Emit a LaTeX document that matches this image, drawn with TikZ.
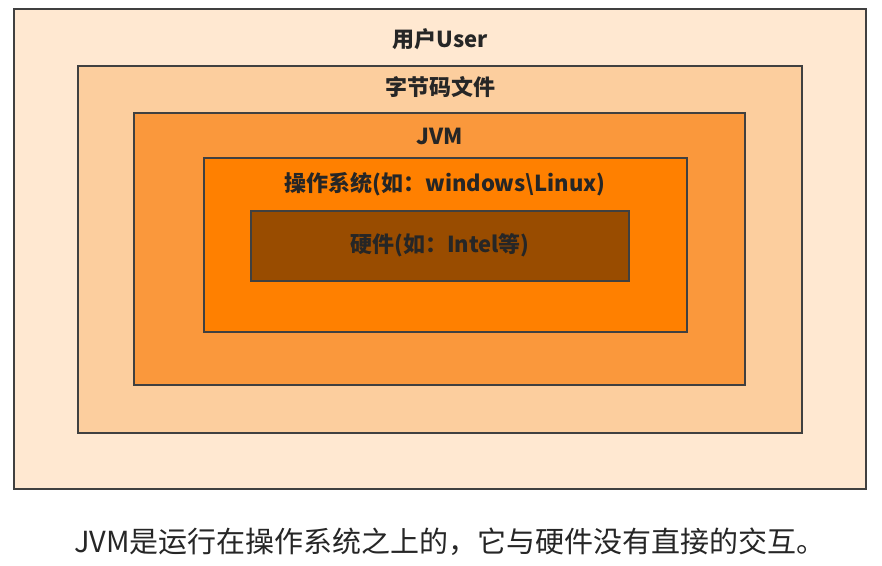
\documentclass[tikz,border=0pt]{standalone}
\usepackage{fontspec}
\newfontfamily\cjk{Noto Sans CJK SC}
\begin{document}
\begin{tikzpicture}[x=1pt,y=-1pt,
  layer/.style={draw=black!75,line width=1.3pt},
  lab/.style={font=\cjk\bfseries\fontsize{22}{26}\selectfont,text=black!85}]
\useasboundingbox[fill=white] (0,0) rectangle (882,565);
\draw[layer,fill=orange!18!white] (14,9) rectangle (866,489);
\draw[layer,fill={rgb,255:red,252;green,206;blue,158}] (78,66) rectangle (802,433);
\draw[layer,fill={rgb,255:red,250;green,152;blue,60}] (134,113) rectangle (745,385);
\draw[layer,fill={rgb,255:red,255;green,128;blue,0}] (204,158) rectangle (687,332);
\draw[layer,fill={rgb,255:red,153;green,76;blue,0}] (251,211) rectangle (629,281);
\node[lab] (u) at (440,39) {用户User};
\node[lab] (b) at (440,87) {字节码文件};
\node[lab] (j) at (440,136) {JVM};
\node[lab] (o) at (445,184) {操作系统(如：windows\textbackslash Linux)};
\node[lab] (h) at (440,245) {硬件(如：Intel等)};
\node[font=\cjk\fontsize{29}{32}\selectfont,text=black!85] (c) at (450,542) {JVM是运行在操作系统之上的，它与硬件没有直接的交互。};
\end{tikzpicture}
\end{document}
